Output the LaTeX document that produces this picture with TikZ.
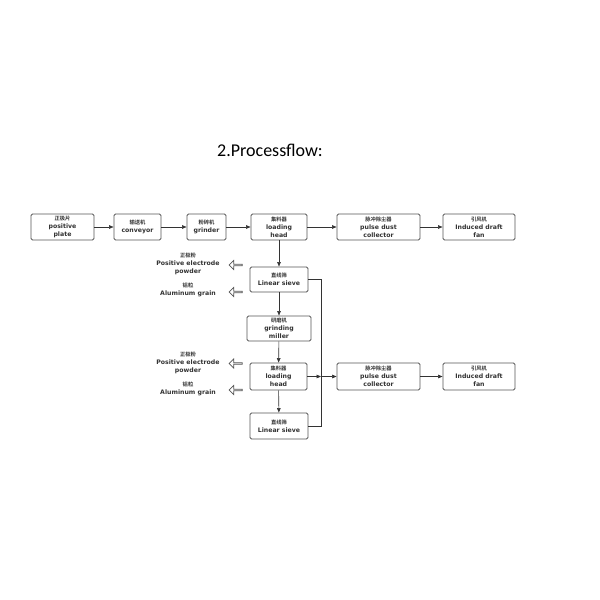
\documentclass[tikz,border=0pt]{standalone}
\usepackage{fontspec}
\setmainfont{Carlito}
\newfontfamily\boxfont{DejaVu Sans}[BoldFont={DejaVu Sans Bold}]
\newfontfamily\cjk{Noto Sans CJK SC}[BoldFont={Noto Sans CJK SC Bold}]
\usetikzlibrary{arrows.meta,shapes.arrows}
\definecolor{edge}{HTML}{555555}
\definecolor{ink}{HTML}{333333}
\tikzset{
  box/.style={draw=edge,line width=0.9pt,rounded corners=1.5pt,fill=white,align=center,inner sep=0pt,minimum height=26pt,text=ink,font=\boxfont\bfseries\fontsize{6.2}{8}\selectfont},
  lab/.style={align=center,inner sep=0pt,text=ink,font=\boxfont\bfseries\fontsize{6.2}{8}\selectfont},
  conn/.style={draw=ink,line width=0.6pt,-{Triangle[length=4.5pt,width=3.6pt]}},
  plain/.style={draw=ink,line width=0.6pt},
  hollow/.style={single arrow,draw=edge,line width=0.7pt,fill=white,shape border rotate=180,minimum height=13pt,minimum width=9pt,single arrow head extend=2pt,inner sep=0pt}
}
\newcommand{\zh}[1]{{\cjk\bfseries\fontsize{5.3}{6}\selectfont #1}}
\begin{document}
\begin{tikzpicture}[x=1pt,y=-1pt]
\useasboundingbox (0,0) rectangle (600,600);
\node[text=black,font=\fontsize{18}{20}\selectfont] (title) at (270,150) {2.Processflow:};
% top row
\node[box,minimum width=63pt] (b1) at (62.5,227) {\zh{正极片}\\positive\\plate};
\node[box,minimum width=47pt] (b2) at (137.5,227) {\zh{输送机}\\conveyor};
\node[box,minimum width=39pt] (b3) at (206.5,227) {\zh{粉碎机}\\grinder};
\node[box,minimum width=56pt] (b4) at (279,227) {\zh{集料器}\\loading\\head};
\node[box,minimum width=83pt] (b5) at (378.5,227) {\zh{脉冲除尘器}\\pulse dust\\collector};
\node[box,minimum width=72pt] (b6) at (479,227) {\zh{引风机}\\Induced draft\\fan};
% column
\node[box,minimum width=58pt,minimum height=25pt] (s1) at (279,279.5) {\zh{直线筛}\\Linear sieve};
\node[box,minimum width=64pt,minimum height=25pt] (m) at (279,328.5) {\zh{研磨机}\\grinding\\miller};
\node[box,minimum width=57pt,minimum height=27pt] (l2) at (278.5,376.5) {\zh{集料器}\\loading\\head};
\node[box,minimum width=58pt,minimum height=26pt] (s2) at (279,426) {\zh{直线筛}\\Linear sieve};
\node[box,minimum width=83pt,minimum height=27pt] (p2) at (378.5,376.5) {\zh{脉冲除尘器}\\pulse dust\\collector};
\node[box,minimum width=72pt,minimum height=27pt] (f2) at (479,376.5) {\zh{引风机}\\Induced draft\\fan};
% side labels
\node[lab] (t1) at (188,264) {\zh{正极粉}\\Positive electrode\\powder};
\node[lab] (t2) at (188,289.5) {\zh{铝粒}\\Aluminum grain};
\node[lab] (t3) at (188,363) {\zh{正极粉}\\Positive electrode\\powder};
\node[lab] (t4) at (188,388.5) {\zh{铝粒}\\Aluminum grain};
\node[hollow] (h1) at (236,265) {};
\node[hollow] (h2) at (236,292) {};
\node[hollow] (h3) at (236,363.5) {};
\node[hollow] (h4) at (236,390) {};
% connectors
\draw[conn] (b1) -- (b2);
\draw[conn] (b2) -- (b3);
\draw[conn] (b3) -- (b4);
\draw[conn] (b4) -- (b5);
\draw[conn] (b5) -- (b6);
\draw[conn] (b4) -- (s1);
\draw[conn] (s1) -- (m);
\draw[conn] (m) -- (l2);
\draw[conn] (l2) -- (s2);
\coordinate (rt) at (321,279.5);
\coordinate (j) at (321,376.5);
\draw[plain] (s1.east) -- (rt) |- (s2.east);
\draw[conn] (l2.east) -- (j);
\draw[conn] (j) -- (p2.west);
\draw[conn] (p2) -- (f2);
\end{tikzpicture}
\end{document}
